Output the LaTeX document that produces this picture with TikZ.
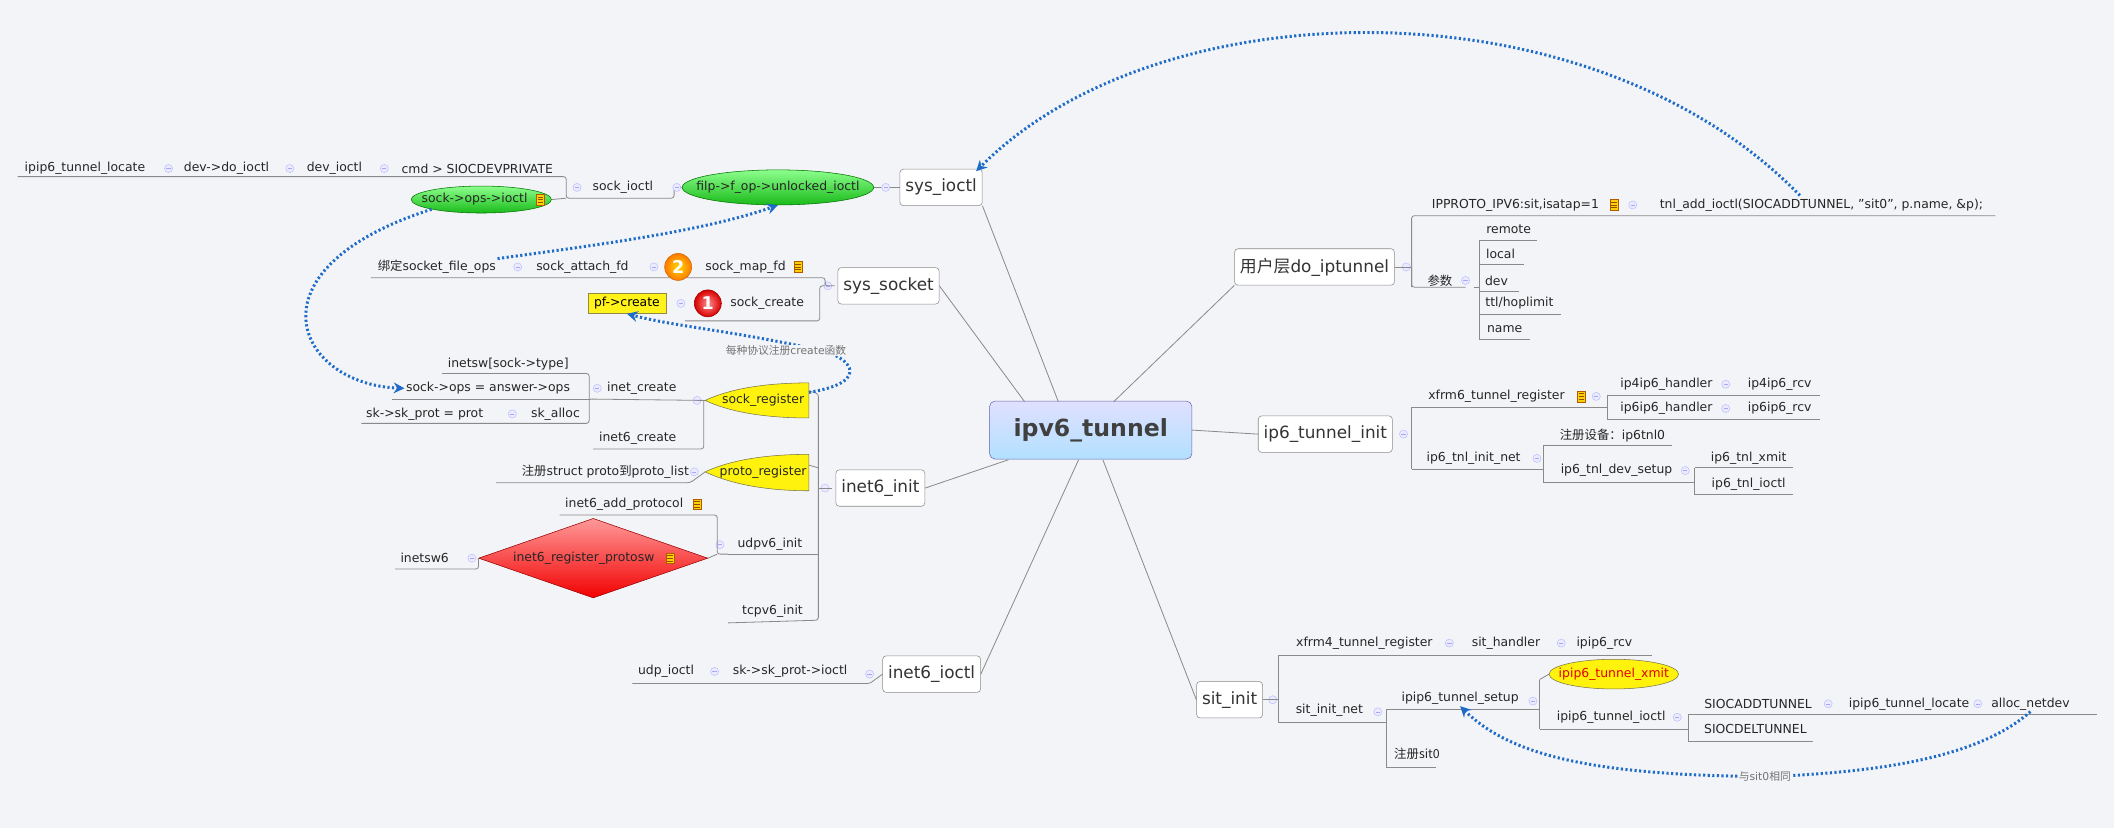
\documentclass[tikz,border=0pt]{standalone}
\usepackage{fontspec}
\setmainfont{DejaVu Sans}
\newfontfamily\cjk{Noto Sans CJK SC}
\usetikzlibrary{shapes.geometric,arrows.meta}
\definecolor{bg}{HTML}{F3F4F7}
\definecolor{ln}{HTML}{8A8A8A}
\definecolor{dotb}{HTML}{1E6CC8}
\tikzset{
 x=1pt,y=-1pt,
 t/.style={font=\fontsize{9.2}{10}\selectfont,inner sep=1pt,text=black!85},
 box/.style={draw=ln,fill=white,rounded corners=2.5pt,font=\fontsize{12.5}{14}\selectfont,inner sep=4pt,minimum height=27pt,text=black!80},
 con/.style={draw=ln,line width=0.6pt,rounded corners=2pt},
 br/.style={draw=ln,line width=0.6pt},
 tog/.style={circle,draw=blue!25,fill=blue!8,inner sep=0pt,minimum size=6pt,path picture={\draw[blue!35,line width=0.4pt](-1.6pt,0)--(1.6pt,0);}},
 note/.style={draw=orange!70!black,fill=yellow!70!orange,inner sep=0pt,minimum width=6pt,minimum height=8pt,path picture={\foreach \k in {-2,0,2}\draw[orange!60!black,line width=0.3pt](-2pt,\k pt)--(2pt,\k pt);}},
 gell/.style={ellipse,draw=green!45!black,top color=green!45,bottom color=green!70!black!90,inner sep=0pt},
 dotl/.style={dotb,line width=2.2pt,dash pattern=on 1.6pt off 1.8pt},
 dot/.style={dotl,-{Stealth[length=8pt,width=8pt]}},
 rel/.style={font=\fontsize{8}{9}\selectfont,text=black!55,inner sep=0.5pt,fill=bg},
}
\newcommand\ul[3]{\draw[con](#1,#3)--(#2,#3);}
\newcommand\elb[5]{\draw[con](#1,#2)--(#3,#2)--(#3,#4)--(#5,#4);}
\begin{document}
\begin{tikzpicture}
\fill[bg](0,0) rectangle (1568,614);
\useasboundingbox (0,0) rectangle (1568,614);
% root
\node[draw=blue!50!black!60,rounded corners=4pt,top color=blue!12,bottom color=blue!40!cyan!30,minimum width=150pt,minimum height=43pt,font=\bfseries\fontsize{17.5}{19}\selectfont,text=black!75] (root) at (809,319) {ipv6\_tunnel};
% main branches
\node[box] (sysioctl) at (698,139) {sys\_ioctl};
\node[box] (syssock) at (659,212) {sys\_socket};
\node[box] (i6init) at (653,362) {inet6\_init};
\node[box] (i6ioctl) at (691,500) {inet6\_ioctl};
\node[box] (doip) at (975,198) {{\cjk 用户层}do\_iptunnel};
\node[box] (tinit) at (983,322) {ip6\_tunnel\_init};
\node[box] (sitinit) at (912,519) {sit\_init};
\draw[br] (785,298)--(sysioctl.south east);
\draw[br] (760,298)--(syssock.east);
\draw[br] (748,341)--(i6init.east);
\draw[br] (800,341)--(i6ioctl.east);
\draw[br] (826,298)--(doip.south west);
\draw[br] (root.east)--(tinit.west);
\draw[br] (818,341)--(sitinit.west);

% ---------- sys_ioctl
\node[gell,minimum width=142pt,minimum height=26pt] (filp) at (577,139) {};
\node[t] at (577,139) {filp->f\_op->unlocked\_ioctl};
\draw[br](filp.east)--(sysioctl.west);
\node[tog] at (657,139) {};
\node[t] (sockioctl) at (462,139) {sock\_ioctl};
\elb{506}{139}{500}{147}{422}
\node[tog] at (502,139) {};
\node[tog] at (428,139) {};
\elb{422}{147}{420}{131}{13}
\draw[con](420,147)--(409,148);
\node[gell,minimum width=104pt,minimum height=20pt] (sopsioctl) at (357,148) {};
\node[t] at (352,148) {sock->ops->ioctl};
\node[note] at (401,148) {};
\node[t] at (63,125) {ipip6\_tunnel\_locate};
\node[tog] at (125,125) {};
\node[t] at (168,125) {dev->do\_ioctl};
\node[tog] at (215,125) {};
\node[t] at (248,125) {dev\_ioctl};
\node[tog] at (285,125) {};
\node[t] at (354,125) {cmd > SIOCDEVPRIVATE};

% ---------- sys_socket
\node[tog] at (614,212) {};
\elb{619}{212}{612}{206}{275}
\elb{612}{212}{608}{238}{508}
\node[t] at (553,198) {sock\_map\_fd};
\node[note] at (592,198) {};
\node[circle,inner color=yellow!70!orange,outer color=orange!95!red,draw=orange!80!black,minimum size=20pt,inner sep=0pt,font=\bfseries\fontsize{13}{13}\selectfont,text=white] (n2) at (503,198) {2};
\node[tog] at (485,198) {};
\node[t] (attach) at (432,198) {sock\_attach\_fd};
\node[tog] at (384,198) {};
\node[t] (bind) at (324,198) {{\cjk 绑定}socket\_file\_ops};
\node[t] at (569,225) {sock\_create};
\node[circle,inner color=red!45,outer color=red!85!black,draw=red!60!black,minimum size=20pt,inner sep=0pt,font=\bfseries\fontsize{13}{13}\selectfont,text=white] (n1) at (525,225) {1};
\node[tog] at (505,225) {};
\node[draw=yellow!50!black,fill=yellow!90,inner sep=2pt,minimum width=58pt,minimum height=15pt,font=\fontsize{9.2}{10}\selectfont] (pfc) at (465,225) {pf->create};

% ---------- inet6_init
\node[tog] at (612,362) {};
\draw[con](617,362)--(607,362);
\draw[con](600,290)--(607,292)--(607,460)--(540,462);
\draw[con](600,345)--(607,347);
\draw[con](607,411)--(540,411);
\path[draw=yellow!40!black,fill=yellow!95] (600,284)--(600,310) .. controls (565,310) and (540,305) .. (523,297) .. controls (540,289) and (565,284) .. (600,284);
\node[t] (sockreg) at (566,297) {sock\_register};
\path[draw=yellow!40!black,fill=yellow!95] (600,337)--(600,364) .. controls (565,364) and (540,358) .. (523,350) .. controls (540,342) and (565,337) .. (600,337);
\node[t] (protoreg) at (566,350) {proto\_register};
\node[t] at (571,404) {udpv6\_init};
\node[t] at (573,453) {tcpv6\_init};
% sock_register children
\node[tog] at (517,297) {};
\draw[con](523,297)--(438,296);
\draw[con](522,297)--(522,333)--(440,333);
\node[t] at (476,288) {inet\_create};
\node[t] at (473,325) {inet6\_create};
\node[tog] at (443,288) {};
\draw[con](438,296)--(291,296);
\draw[con](437,296)--(437,277)--(328,277);
\draw[con](437,296)--(437,314)--(268,314);
\node[t] at (377,270) {inetsw[sock->type]};
\node[t] (answer) at (362,288) {sock->ops = answer->ops};
\node[t] at (412,307) {sk\_alloc};
\node[tog] at (380,307) {};
\node[t] at (315,307) {sk->sk\_prot = prot};
% proto_register child
\node[tog] at (515,350) {};
\draw[con](523,350)--(512,358)--(368,358);
\node[t] at (449,350) {{\cjk 注册}struct proto{\cjk 到}proto\_list};
% udpv6 children
\node[tog] at (534,404) {};
\draw[con](540,411)--(532,411)--(532,382)--(415,382);
\draw[con](532,411)--(525,414);
\node[t] at (463,374) {inet6\_add\_protocol};
\node[note] at (517,374) {};
\node[diamond,draw=red!60!black,top color=red!40,bottom color=red!95!black,minimum width=170pt,minimum height=59pt,inner sep=0pt,aspect=2.9] (diam) at (440,414) {};
\node[t] at (433,414) {inet6\_register\_protosw};
\node[note] at (497,414) {};
\node[tog] at (350,414) {};
\draw[con](diam.west)--(355,422)--(293,422);
\node[t] at (315,414) {inetsw6};

% ---------- inet6_ioctl
\node[tog] at (645,500) {};
\draw[con](i6ioctl.west)--(645,507)--(469,507);
\node[t] at (586,498) {sk->sk\_prot->ioctl};
\node[tog] at (530,498) {};
\node[t] at (494,498) {udp\_ioctl};

% ---------- do_iptunnel
\node[tog] at (1043,198) {};
\draw[con](doip.east)--(1047,198);
\draw[con](1047,213)--(1047,160)--(1480,160);
\draw[con](1047,198)--(1047,213)--(1087,213);
\node[t] at (1124,152) {IPPROTO\_IPV6:sit,isatap=1};
\node[note] at (1197,152) {};
\node[tog] at (1211,152) {};
\node[t] (tnladd) at (1351,152) {tnl\_add\_ioctl(SIOCADDTUNNEL, "sit0", p.name, \&p);};
\node[t] at (1068,208) {\cjk 参数};
\node[tog] at (1087,208) {};
\draw[con](1093,213)--(1097,213);
\draw[con](1097,178)--(1097,252);
\ul{1097}{1140}{178}\ul{1097}{1130}{196}\ul{1097}{1127}{216}\ul{1097}{1158}{233}\ul{1097}{1135}{252}
\node[t] at (1119,170) {remote};
\node[t] at (1113,188) {local};
\node[t] at (1110,208) {dev};
\node[t] at (1127,225) {ttl/hoplimit};
\node[t] at (1116,244) {name};

% ---------- ip6_tunnel_init
\node[tog] at (1041,322) {};
\draw[con](1047,302)--(1047,348);
\ul{1047}{1187}{302}\ul{1047}{1145}{348}
\node[t] at (1110,294) {xfrm6\_tunnel\_register};
\node[note] at (1173,294) {};
\node[tog] at (1184,294) {};
\draw[con](1187,302)--(1192,302);
\draw[con](1192,293)--(1192,311);
\ul{1192}{1350}{293}\ul{1192}{1350}{311}
\node[t] at (1236,285) {ip4ip6\_handler};\node[tog] at (1280,285) {};\node[t] at (1320,285) {ip4ip6\_rcv};
\node[t] at (1236,303) {ip6ip6\_handler};\node[tog] at (1280,303) {};\node[t] at (1320,303) {ip6ip6\_rcv};
\node[t] at (1093,340) {ip6\_tnl\_init\_net};
\node[tog] at (1140,340) {};
\draw[con](1145,330)--(1145,358);
\ul{1145}{1240}{330}\ul{1145}{1257}{358}
\node[t] at (1196,323) {{\cjk 注册设备：}ip6tnl0};
\node[t] at (1199,349) {ip6\_tnl\_dev\_setup};
\node[tog] at (1250,349) {};
\draw[con](1257,347)--(1257,367);
\ul{1257}{1330}{347}\ul{1257}{1330}{367}
\node[t] at (1297,340) {ip6\_tnl\_xmit};
\node[t] at (1297,359) {ip6\_tnl\_ioctl};

% ---------- sit_init
\node[tog] at (944,519) {};
\draw[con](sitinit.east)--(948,519);
\draw[con](948,486)--(948,536);
\ul{948}{1225}{486}\ul{948}{1028}{536}
\node[t] at (1012,477) {xfrm4\_tunnel\_register};
\node[tog] at (1075,477) {};
\node[t] at (1117,477) {sit\_handler};
\node[tog] at (1158,477) {};
\node[t] at (1190,477) {ipip6\_rcv};
\node[t] at (986,527) {sit\_init\_net};
\node[tog] at (1022,528) {};
\draw[con](1028,526)--(1028,569);
\ul{1028}{1142}{526}\ul{1028}{1065}{569}
\node[t] (setup) at (1083,518) {ipip6\_tunnel\_setup};
\node[tog] at (1137,520) {};
\draw[con](1142,504)--(1142,541);
\draw[con](1142,504)--(1149,500);
\ul{1142}{1252}{541}
\node[ellipse,draw=yellow!40!black,fill=yellow!95,minimum width=96pt,minimum height=22pt,inner sep=0pt] (xmit) at (1197,500) {};
\node[t,text=red!90!black] at (1197,500) {ipip6\_tunnel\_xmit};
\node[t] at (1195,532) {ipip6\_tunnel\_ioctl};
\node[tog] at (1244,532) {};
\draw[con](1252,530)--(1252,550);
\ul{1252}{1555}{530}\ul{1252}{1345}{550}
\node[t] at (1304,522) {SIOCADDTUNNEL};
\node[tog] at (1356,522) {};
\node[t] at (1416,522) {ipip6\_tunnel\_locate};
\node[tog] at (1467,522) {};
\node[t] (allocnd) at (1506,522) {alloc\_netdev};
\node[t] at (1302,541) {SIOCDELTUNNEL};
\node[t] at (1051,559) {\cjk 注册sit0};

% ---------- dotted relations
\coordinate (a0) at (1335,145);
\coordinate (a1) at (724,127);
\draw[dot] (a0) .. controls (1180,-15) and (860,-10) .. (a1);
\draw[dot] (bind.north east) .. controls (440,182) and (520,172) .. (filp.south);
\draw[dot] (sopsioctl.south west) .. controls (180,200) and (220,285) .. (answer.west);
\draw[dotl] (600,291) .. controls (650,283) and (630,262) .. (600,258);
\draw[dot] (600,258) .. controls (540,245) and (500,242) .. (pfc.south);
\node[rel] at (583,260) {{\cjk 每种协议注册}create{\cjk 函数}};
\draw[dotl] (allocnd.south) .. controls (1470,560) and (1400,573) .. (1309,576);
\draw[dot] (1309,576) .. controls (1180,575) and (1120,560) .. (setup.south);
\node[rel] at (1309,576) {{\cjk 与}sit0{\cjk 相同}};
\end{tikzpicture}
\end{document}
